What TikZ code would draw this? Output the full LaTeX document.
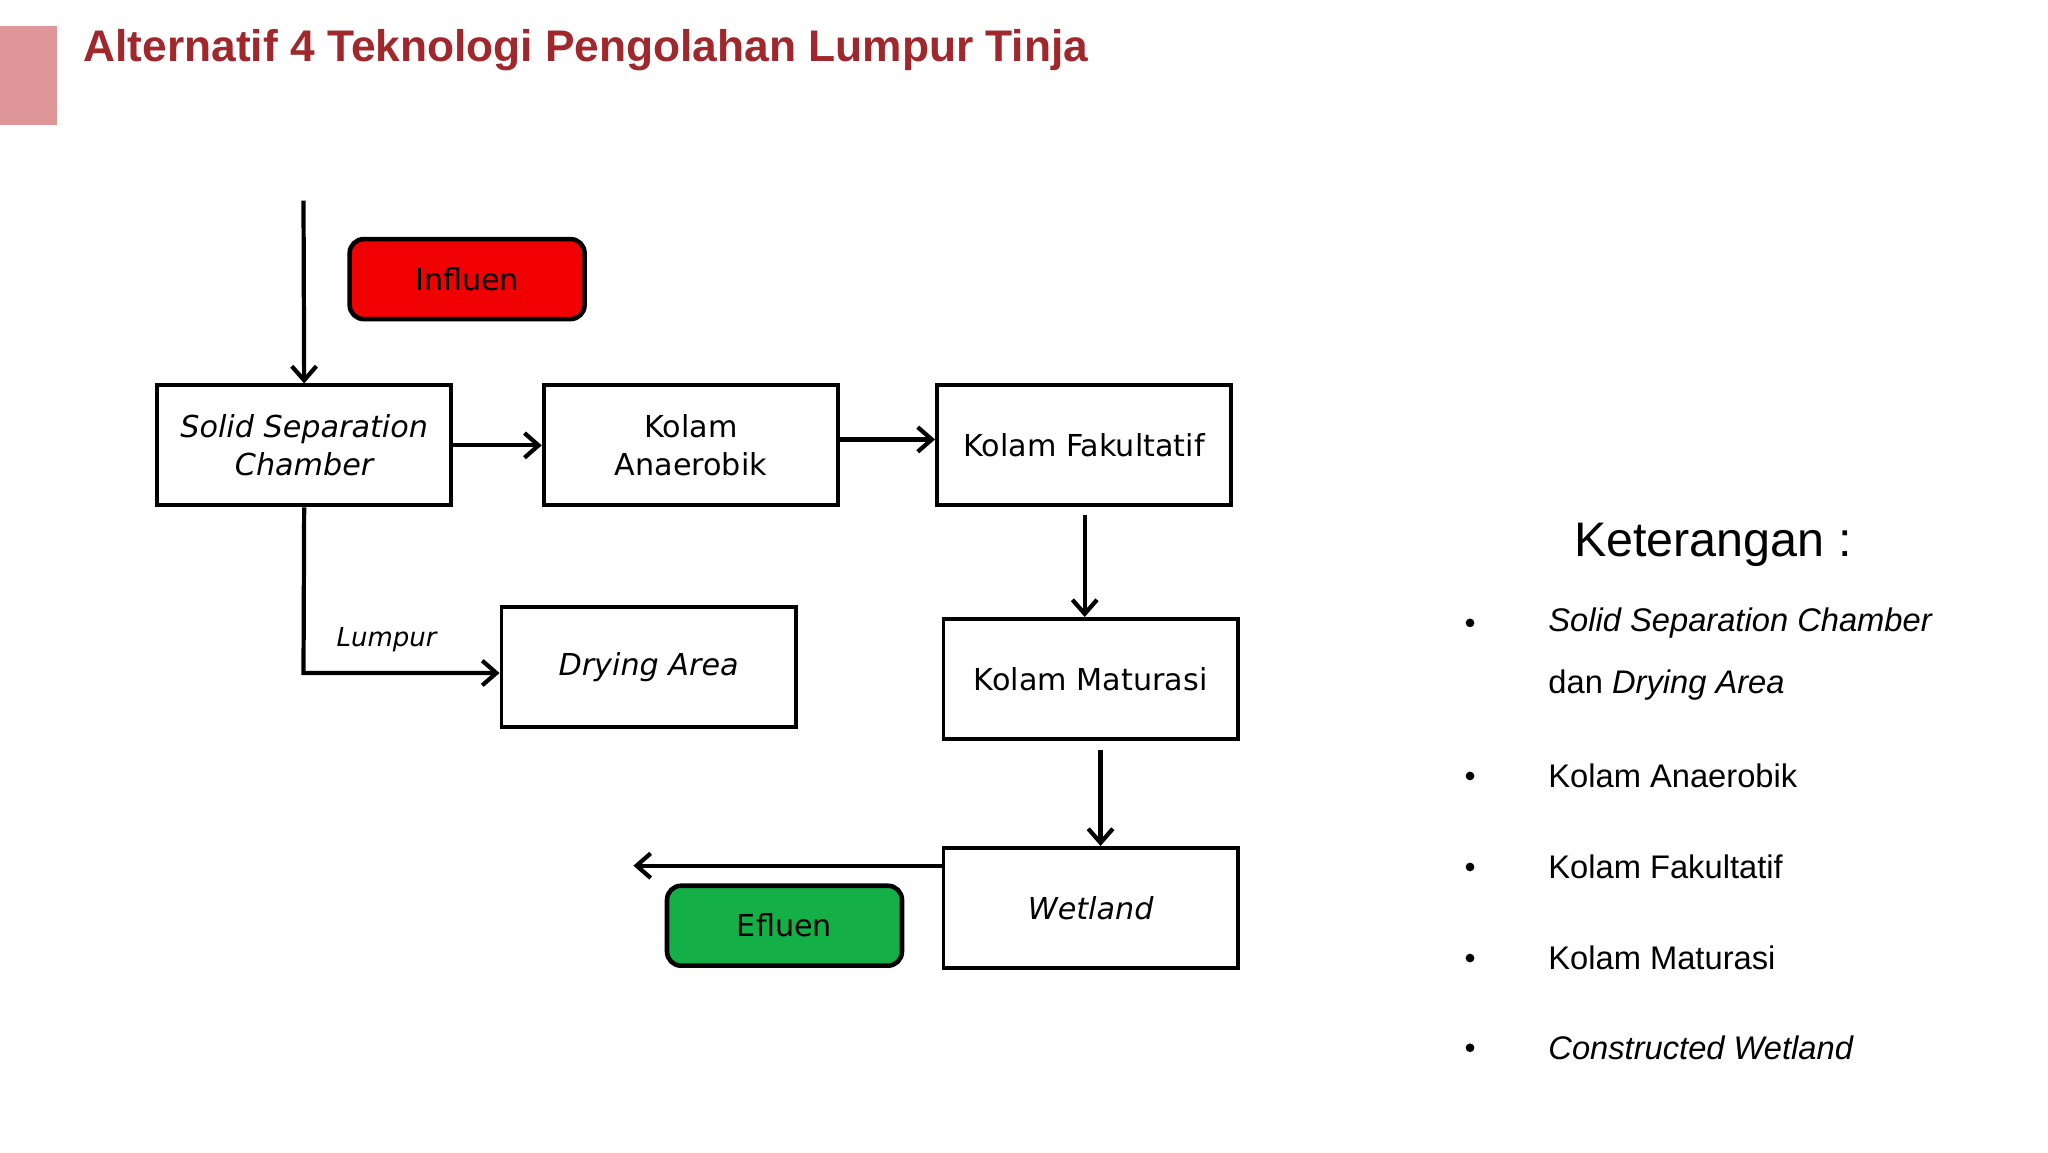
\documentclass[tikz,border=0pt]{standalone}
\usepackage{fontspec}
\setmainfont{Liberation Sans}
\newfontfamily\boxfont{DejaVu Sans}
\usetikzlibrary{arrows.meta}
\definecolor{titlered}{RGB}{160,40,45}
\definecolor{pinkbar}{RGB}{222,150,152}
\definecolor{infred}{RGB}{240,0,0}
\definecolor{efgreen}{RGB}{20,175,70}
\tikzset{
 procbox/.style={draw=black,line width=1.1pt,minimum width=223\pgflinewidth*0+2.943cm,minimum height=1.2cm,align=center,font=\boxfont\fontsize{8.6}{11}\selectfont},
 tagbox/.style={draw=black,line width=1.3pt,rounded corners=4pt,minimum width=2.35cm,minimum height=0.8cm,font=\boxfont\fontsize{8.6}{11}\selectfont},
 flow/.style={line width=1.2pt,-{Straight Barb[length=4pt,width=7pt]}},
 legitem/.style={anchor=west,font=\fontsize{9.3}{11}\selectfont},
}
\begin{document}
\begin{tikzpicture}[x=0.013196cm,y=-0.013196cm]
\useasboundingbox (0,0) rectangle (1552,873);
\fill[pinkbar] (0,20) rectangle (43,95);
\node[anchor=west,text=titlered,font=\bfseries\fontsize{12.6}{15}\selectfont] (title) at (54,38) {Alternatif 4 Teknologi Pengolahan Lumpur Tinja};
\node[procbox] (ssc) at (230.5,337.5) {\itshape Solid Separation\\\itshape Chamber};
\node[procbox] (ka) at (523.5,337.5) {Kolam\\Anaerobik};
\node[procbox] (kf) at (821.5,337.5) {Kolam Fakultatif};
\node[procbox] (da) at (491.5,505.5) {\itshape Drying Area};
\node[procbox] (km) at (826.5,514.5) {Kolam Maturasi};
\node[procbox] (wl) at (826.5,688) {\itshape Wetland};
\node[tagbox,fill=infred] (inf) at (354,211.5) {Influen};
\node[tagbox,fill=efgreen] (ef) at (594.5,701.5) {Efluen};
\coordinate (top) at (230,152);
\coordinate (efend) at (480,656);
\coordinate (bend) at (230,510);
\draw[flow] (top) -- (ssc.north);
\draw[flow] (ssc.east) -- (ka.west);
\draw[flow] (ka.east |- 0,333) -- (kf.west |- 0,333);
\draw[flow] (822,390) -- (km.north -| 822,0);
\draw[flow] (834,568) -- (wl.north -| 834,0);
\draw[flow] (wl.west |- efend) -- (efend);
\draw[flow] (ssc.south) -- (bend) -- (da.west |- bend);
\node[font=\boxfont\itshape\fontsize{7.4}{9}\selectfont] (lump) at (293,485) {Lumpur};
\node[font=\fontsize{13.8}{16}\selectfont] (ket) at (1298,413) {Keterangan :};
\foreach \yy in {472,588,657,726,794} \fill (1114,\yy) circle (3.3);
\node[legitem] (l1) at (1164,472) {\itshape Solid Separation Chamber};
\node[legitem] (l1b) at (1164,519) {dan \textit{Drying Area}};
\node[legitem] (l2) at (1164,588) {Kolam Anaerobik};
\node[legitem] (l3) at (1164,657) {Kolam Fakultatif};
\node[legitem] (l4) at (1164,726) {Kolam Maturasi};
\node[legitem] (l5) at (1164,794) {\itshape Constructed Wetland};
\end{tikzpicture}
\end{document}
